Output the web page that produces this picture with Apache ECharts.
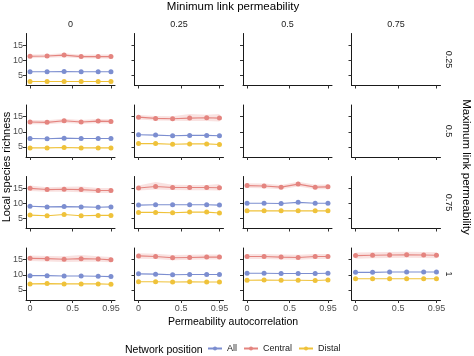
<!DOCTYPE html>
<html><head><meta charset="utf-8">
<script src="https://cdn.jsdelivr.net/npm/echarts@6/dist/echarts.min.js"></script>
<style>html,body{margin:0;padding:0;background:#fff}#c{width:474px;height:356px}</style>
</head><body><div id="c"></div>
<script>
// ---------- data ----------
const autocorr = [0, 0.2, 0.4, 0.6, 0.8, 0.95];
const minPerm = ['0', '0.25', '0.5', '0.75'];   // columns
const maxPerm = ['0.25', '0.5', '0.75', '1'];   // rows
const xTicks = [0, 0.5, 0.95];
const yTicks = [5, 10, 15];
const positions = ['All', 'Central', 'Distal'];

// row max 0.25
const all_r0c0 = [6.2, 6.2, 6.3, 6.2, 6.2, 6.2];
const central_r0c0 = [11.3, 11.4, 11.7, 11.2, 11.2, 11.2];
const centralLo_r0c0 = [10.7, 10.8, 11.0, 10.7, 10.6, 10.5];
const centralHi_r0c0 = [11.9, 12.0, 12.3, 11.8, 11.9, 11.9];
const distal_r0c0 = [3.0, 3.0, 3.0, 3.0, 3.0, 3.0];

// row max 0.5
const all_r1c0 = [7.8, 7.7, 7.9, 7.8, 7.8, 7.8];
const central_r1c0 = [13.2, 13.1, 13.6, 13.2, 13.5, 13.4];
const centralLo_r1c0 = [12.5, 12.5, 12.9, 12.6, 12.8, 12.7];
const centralHi_r1c0 = [13.9, 13.8, 14.3, 13.9, 14.2, 14.1];
const distal_r1c0 = [4.7, 4.7, 4.8, 4.7, 4.7, 4.7];

const all_r1c1 = [9.0, 8.9, 8.7, 8.8, 8.8, 8.7];
const central_r1c1 = [14.8, 14.4, 14.3, 14.5, 14.6, 14.5];
const centralLo_r1c1 = [14.0, 13.7, 13.6, 13.5, 13.5, 13.4];
const centralHi_r1c1 = [15.5, 15.2, 15.1, 15.8, 15.6, 15.8];
const distal_r1c1 = [6.1, 6.1, 5.9, 6.0, 6.0, 5.8];

// row max 0.75
const all_r2c0 = [9.0, 8.8, 8.9, 8.8, 8.7, 8.8];
const central_r2c0 = [14.9, 14.5, 14.6, 14.5, 14.2, 14.2];
const centralLo_r2c0 = [14.0, 13.8, 13.8, 13.6, 13.4, 13.4];
const centralHi_r2c0 = [15.8, 15.3, 15.4, 15.5, 15.0, 15.0];
const distal_r2c0 = [6.1, 5.9, 6.3, 5.9, 6.0, 6.0];

const all_r2c1 = [9.4, 9.5, 9.5, 9.5, 9.5, 9.4];
const central_r2c1 = [15.0, 15.5, 15.2, 15.2, 15.2, 15.1];
const centralLo_r2c1 = [14.2, 14.5, 14.4, 14.3, 14.3, 14.2];
const centralHi_r2c1 = [15.8, 17.0, 16.1, 16.0, 16.0, 16.3];
const distal_r2c1 = [7.0, 7.0, 6.9, 7.1, 7.1, 6.8];

const all_r2c2 = [10.0, 10.0, 9.9, 10.3, 10.0, 10.0];
const central_r2c2 = [15.8, 15.7, 15.3, 16.3, 15.3, 15.4];
const centralLo_r2c2 = [15.0, 14.9, 14.6, 15.5, 14.6, 14.6];
const centralHi_r2c2 = [16.6, 16.5, 16.0, 17.1, 16.1, 16.2];
const distal_r2c2 = [7.5, 7.5, 7.5, 7.5, 7.5, 7.5];

// row max 1
const all_r3c0 = [9.7, 9.7, 9.6, 9.6, 9.5, 9.4];
const central_r3c0 = [15.4, 15.3, 15.1, 15.3, 15.2, 14.9];
const centralLo_r3c0 = [14.5, 14.4, 14.2, 14.3, 14.3, 14.1];
const centralHi_r3c0 = [16.3, 16.2, 16.1, 16.5, 16.1, 15.8];
const distal_r3c0 = [7.0, 7.1, 7.0, 7.0, 7.0, 6.9];

const all_r3c1 = [10.3, 10.2, 10.0, 10.1, 10.1, 10.1];
const central_r3c1 = [16.2, 16.0, 15.6, 15.7, 15.8, 15.8];
const centralLo_r3c1 = [15.3, 15.2, 14.8, 14.9, 15.0, 15.0];
const centralHi_r3c1 = [17.1, 16.9, 16.5, 16.6, 16.7, 16.7];
const distal_r3c1 = [7.7, 7.7, 7.6, 7.7, 7.6, 7.6];

const all_r3c2 = [10.5, 10.5, 10.4, 10.4, 10.4, 10.5];
const central_r3c2 = [16.0, 16.0, 15.8, 15.7, 16.0, 16.0];
const centralLo_r3c2 = [15.2, 15.2, 15.0, 14.9, 15.2, 15.2];
const centralHi_r3c2 = [16.8, 16.8, 16.7, 16.6, 16.8, 16.8];
const distal_r3c2 = [8.2, 8.3, 8.2, 8.2, 8.1, 8.3];

const all_r3c3 = [10.8, 10.8, 10.9, 10.9, 10.9, 10.9];
const central_r3c3 = [16.3, 16.4, 16.5, 16.6, 16.5, 16.4];
const centralLo_r3c3 = [15.3, 15.4, 15.5, 15.6, 15.5, 15.4];
const centralHi_r3c3 = [17.3, 17.4, 17.5, 17.6, 17.5, 17.4];
const distal_r3c3 = [8.7, 8.7, 8.7, 8.7, 8.7, 8.7];

const panels = {
  'r0c0': [all_r0c0, central_r0c0, distal_r0c0, centralLo_r0c0, centralHi_r0c0],
  'r1c0': [all_r1c0, central_r1c0, distal_r1c0, centralLo_r1c0, centralHi_r1c0],
  'r1c1': [all_r1c1, central_r1c1, distal_r1c1, centralLo_r1c1, centralHi_r1c1],
  'r2c0': [all_r2c0, central_r2c0, distal_r2c0, centralLo_r2c0, centralHi_r2c0],
  'r2c1': [all_r2c1, central_r2c1, distal_r2c1, centralLo_r2c1, centralHi_r2c1],
  'r2c2': [all_r2c2, central_r2c2, distal_r2c2, centralLo_r2c2, centralHi_r2c2],
  'r3c0': [all_r3c0, central_r3c0, distal_r3c0, centralLo_r3c0, centralHi_r3c0],
  'r3c1': [all_r3c1, central_r3c1, distal_r3c1, centralLo_r3c1, centralHi_r3c1],
  'r3c2': [all_r3c2, central_r3c2, distal_r3c2, centralLo_r3c2, centralHi_r3c2],
  'r3c3': [all_r3c3, central_r3c3, distal_r3c3, centralLo_r3c3, centralHi_r3c3]
};

// ---------- layout / style ----------
const FONT = '"Liberation Sans", Arial, sans-serif';
const colors = { All: '#7C8ED0', Central: '#E4847F', Distal: '#EFC23A' };
const bandColor = 'rgba(231,138,134,0.25)';
const lefts = [26, 134.5, 243, 351.5];
const tops = [33.5, 105, 176.5, 248];
const W = 89, H = 52;

function bandSeries(gi, lo, hi) {
  return {
    type: 'custom', name: 'band' + gi, xAxisIndex: gi, yAxisIndex: gi, silent: true, z: 1,
    data: autocorr.map((x, i) => [x, lo[i], hi[i]]),
    encode: { x: 0, y: [1, 2] },
    renderItem: function (params, api) {
      if (params.dataIndex !== 0) return null;
      const pts = [];
      for (let i = 0; i < autocorr.length; i++) pts.push(api.coord([autocorr[i], hi[i]]));
      for (let i = autocorr.length - 1; i >= 0; i--) pts.push(api.coord([autocorr[i], lo[i]]));
      return { type: 'polygon', shape: { points: pts }, style: { fill: bandColor, stroke: null } };
    }
  };
}

const grids = [], xAxes = [], yAxes = [], series = [], graphics = [];
let gi = 0;
for (let r = 0; r < 4; r++) {
  for (let c = 0; c < 4; c++) {
    grids.push({ left: lefts[c], top: tops[r], width: W, height: H });
    xAxes.push({
      type: 'value', gridIndex: gi, min: -0.0475, max: 0.9975,
      axisLine: { show: true, onZero: false, lineStyle: { color: '#1a1a1a', width: 1 } },
      axisTick: { show: true, length: 3, customValues: xTicks, lineStyle: { color: '#333', width: 1 } },
      axisLabel: { show: r === 3, customValues: xTicks, fontSize: 9, color: '#4d4d4d', margin: 4, fontFamily: FONT },
      splitLine: { show: false }
    });
    yAxes.push({
      type: 'value', gridIndex: gi, min: 1.7, max: 18.8,
      axisLine: { show: true, onZero: false, lineStyle: { color: '#1a1a1a', width: 1 } },
      axisTick: { show: true, length: 3, customValues: yTicks, lineStyle: { color: '#333', width: 1 } },
      axisLabel: { show: c === 0, customValues: yTicks, fontSize: 9, color: '#4d4d4d', margin: 3, fontFamily: FONT },
      splitLine: { show: false }
    });
    const key = 'r' + r + 'c' + c;
    if (panels[key]) {
      const [allV, cenV, disV, lo, hi] = panels[key];
      series.push(bandSeries(gi, lo, hi));
      const vals = { All: allV, Central: cenV, Distal: disV };
      positions.forEach(p => {
        series.push({
          type: 'line', name: p, xAxisIndex: gi, yAxisIndex: gi,
          data: autocorr.map((x, i) => [x, vals[p][i]]),
          symbol: 'circle', symbolSize: 5, showSymbol: true,
          itemStyle: { color: colors[p] }, lineStyle: { color: colors[p], width: 1.1 },
          z: 3
        });
      });
    }
    gi++;
  }
}

// strip labels (columns)
minPerm.forEach((t, c) => graphics.push({
  type: 'text', x: lefts[c] + W / 2, y: 25,
  style: { text: t, font: '9px ' + FONT, fill: '#1a1a1a', textAlign: 'center', textVerticalAlign: 'middle' }
}));
// strip labels (rows)
maxPerm.forEach((t, r) => graphics.push({
  type: 'text', x: 448, y: tops[r] + H / 2, rotation: -Math.PI / 2,
  style: { text: t, font: '9px ' + FONT, fill: '#1a1a1a', textAlign: 'center', textVerticalAlign: 'middle' }
}));
graphics.push({ type: 'text', x: 233, y: 7, style: { text: 'Minimum link permeability', font: '11.5px ' + FONT, fill: '#000', textAlign: 'center', textVerticalAlign: 'middle' } });
graphics.push({ type: 'text', x: 466, y: 167, rotation: -Math.PI / 2, style: { text: 'Maximum link permeability', font: '11.5px ' + FONT, fill: '#000', textAlign: 'center', textVerticalAlign: 'middle' } });
graphics.push({ type: 'text', x: 7, y: 167, rotation: Math.PI / 2, style: { text: 'Local species richness', font: '11px ' + FONT, fill: '#000', textAlign: 'center', textVerticalAlign: 'middle' } });
graphics.push({ type: 'text', x: 233, y: 322, style: { text: 'Permeability autocorrelation', font: '10.5px ' + FONT, fill: '#000', textAlign: 'center', textVerticalAlign: 'middle' } });
graphics.push({ type: 'text', x: 125, y: 350, style: { text: 'Network position', font: '10.5px ' + FONT, fill: '#000', textAlign: 'left', textVerticalAlign: 'middle' } });

const chart = echarts.init(document.getElementById('c'), null, { renderer: 'canvas' });
chart.setOption({
  animation: false,
  backgroundColor: '#fff',
  grid: grids, xAxis: xAxes, yAxis: yAxes, series: series,
  legend: {
    data: positions, left: 207, top: 344, padding: 0, itemWidth: 14, itemHeight: 5, itemGap: 6,
    textStyle: { fontSize: 9, color: '#1a1a1a', fontFamily: FONT }, selectedMode: false
  },
  graphic: graphics
});
</script></body></html>
